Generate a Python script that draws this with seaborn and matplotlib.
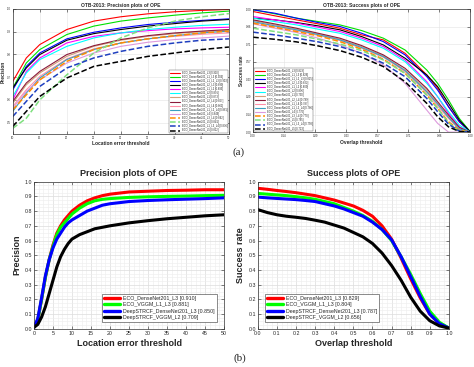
import numpy as np
import pandas as pd
import matplotlib
matplotlib.use("Agg")
import matplotlib.pyplot as plt
from matplotlib.ticker import MultipleLocator, AutoMinorLocator
import seaborn as sns

sns.set_theme(style="ticks")
plt.rcParams['font.family'] = ['Liberation Sans', 'DejaVu Sans']

# ---------------- data: (a) OTB-2013, 15 variants ----------------
top_names = [
    "ECO_DenseNet201_L3 [0.910]", "ECO_DenseNet201_L1_L3 [0.906]",
    "ECO_DenseNet201_L1_L2_L3 [0.903]", "ECO_DenseNet201_L2_L3 [0.899]",
    "ECO_DenseNet201_L1_L2 [0.893]", "ECO_DenseNet201_L2 [0.891]",
    "ECO_DenseNet201_L1 [0.873]", "ECO_DenseNet201_L2_L4 [0.867]",
    "ECO_DenseNet201_L1_L4 [0.861]", "ECO_DenseNet201_L1_L2_L4 [0.861]",
    "ECO_DenseNet201_L4 [0.849]", "ECO_DenseNet201_L3_L4 [0.842]",
    "ECO_DenseNet201_L5 [0.841]", "ECO_DenseNet201_L1_L3_L4 [0.836]",
    "ECO_DenseNet201_L5 [0.812]",
]
top_colors = ["#ff0000", "#00e000", "#0000ff", "#000000", "#ff00ff", "#00ffff",
              "#d2a07a", "#8b1a3a", "#ff8fa8", "#3a9fc0", "#dd99dd",
              "#ff8c00", "#7fe07f", "#1f3fbf", "#000000"]
top_styles = ["-"] * 11 + ["--"] * 4

prec_top_x = [10, 12.5, 15, 20, 25, 30, 35, 40, 45, 50]
prec_top = [
    [0.681, 0.784, 0.843, 0.909, 0.946, 0.965, 0.978, 0.987, 0.993, 0.997],
    [0.652, 0.762, 0.821, 0.887, 0.924, 0.946, 0.960, 0.972, 0.982, 0.990],
    [0.644, 0.747, 0.806, 0.868, 0.897, 0.916, 0.931, 0.941, 0.949, 0.956],
    [0.652, 0.740, 0.799, 0.862, 0.891, 0.909, 0.924, 0.935, 0.946, 0.953],
    [0.600, 0.725, 0.784, 0.850, 0.879, 0.894, 0.904, 0.912, 0.916, 0.919],
    [0.615, 0.718, 0.777, 0.835, 0.872, 0.894, 0.909, 0.919, 0.927, 0.932],
    [0.585, 0.666, 0.718, 0.791, 0.835, 0.862, 0.879, 0.891, 0.900, 0.906],
    [0.593, 0.674, 0.725, 0.799, 0.838, 0.865, 0.882, 0.894, 0.902, 0.909],
    [0.571, 0.644, 0.703, 0.780, 0.824, 0.850, 0.868, 0.879, 0.888, 0.894],
    [0.549, 0.630, 0.696, 0.777, 0.821, 0.850, 0.868, 0.882, 0.894, 0.902],
    [0.563, 0.637, 0.688, 0.762, 0.806, 0.835, 0.853, 0.865, 0.872, 0.880],
    [0.556, 0.622, 0.688, 0.769, 0.821, 0.850, 0.868, 0.882, 0.894, 0.902],
    [0.475, 0.519, 0.600, 0.710, 0.806, 0.872, 0.916, 0.946, 0.965, 0.979],
    [0.527, 0.593, 0.659, 0.740, 0.784, 0.813, 0.835, 0.850, 0.862, 0.868],
    [0.483, 0.549, 0.615, 0.696, 0.747, 0.769, 0.791, 0.806, 0.821, 0.832],
]

succ_top_x = [0, 0.1, 0.2, 0.3, 0.4, 0.5, 0.6, 0.7, 0.8, 0.85, 0.9, 0.95, 1.0]
succ_top = [
    [0.981, 0.946, 0.913, 0.880, 0.845, 0.791, 0.750, 0.641, 0.465, 0.356, 0.207, 0.084, 0.0],
    [0.995, 0.962, 0.927, 0.899, 0.872, 0.826, 0.764, 0.668, 0.505, 0.397, 0.261, 0.111, 0.003],
    [0.995, 0.967, 0.927, 0.891, 0.859, 0.804, 0.736, 0.628, 0.451, 0.342, 0.207, 0.084, 0.003],
    [0.927, 0.913, 0.891, 0.864, 0.832, 0.777, 0.709, 0.601, 0.465, 0.370, 0.234, 0.098, 0.003],
    [0.940, 0.913, 0.886, 0.853, 0.818, 0.764, 0.696, 0.587, 0.410, 0.288, 0.152, 0.043, 0.0],
    [0.927, 0.899, 0.872, 0.837, 0.804, 0.750, 0.682, 0.573, 0.397, 0.288, 0.166, 0.057, 0.0],
    [0.908, 0.872, 0.837, 0.799, 0.755, 0.696, 0.620, 0.505, 0.342, 0.234, 0.125, 0.030, 0.0],
    [0.913, 0.880, 0.845, 0.804, 0.764, 0.704, 0.628, 0.519, 0.356, 0.247, 0.139, 0.038, 0.0],
    [0.891, 0.859, 0.826, 0.788, 0.745, 0.682, 0.609, 0.492, 0.321, 0.212, 0.111, 0.022, 0.0],
    [0.899, 0.864, 0.832, 0.793, 0.750, 0.688, 0.614, 0.500, 0.329, 0.228, 0.120, 0.027, 0.0],
    [0.880, 0.845, 0.810, 0.764, 0.709, 0.641, 0.546, 0.397, 0.179, 0.071, 0.0, 0.0, 0.0],
    [0.886, 0.853, 0.818, 0.783, 0.736, 0.674, 0.592, 0.478, 0.302, 0.193, 0.084, 0.016, 0.0],
    [0.845, 0.818, 0.791, 0.755, 0.717, 0.663, 0.587, 0.478, 0.302, 0.193, 0.076, 0.008, 0.0],
    [0.813, 0.791, 0.764, 0.734, 0.696, 0.641, 0.560, 0.451, 0.274, 0.166, 0.065, 0.008, 0.0],
    [0.772, 0.755, 0.734, 0.701, 0.663, 0.609, 0.533, 0.410, 0.234, 0.125, 0.043, 0.005, 0.0],
]
succ_top_names = [n.split(" [")[0] for n in top_names]
succ_top_scores = ["0.829", "0.826", "0.825", "0.822", "0.809", "0.806", "0.790",
                   "0.789", "0.787", "0.786", "0.776", "0.770", "0.765", "0.758", "0.723"]

# ---------------- data: (b) four trackers ----------------
bot_names_p = ["ECO_DenseNet201_L3 [0.910]", "ECO_VGGM_L1_L3 [0.881]",
               "DeepSTRCF_DenseNet201_L3 [0.850]", "DeepSTRCF_VGGM_L2 [0.709]"]
bot_names_s = ["ECO_DenseNet201_L3 [0.829]", "ECO_VGGM_L1_L3 [0.804]",
               "DeepSTRCF_DenseNet201_L3 [0.787]", "DeepSTRCF_VGGM_L2 [0.656]"]
bot_colors = ["#ff0000", "#00ff00", "#0000ff", "#000000"]

prec_x = [0, 1, 2, 3, 4, 5, 6, 7, 8, 9, 10, 12, 14, 16, 18, 20, 25, 30, 35, 40, 45, 50]
prec_bot = [
    [0.01, 0.06, 0.20, 0.35, 0.47, 0.57, 0.65, 0.70, 0.74, 0.77, 0.80, 0.84, 0.87, 0.89, 0.905, 0.915, 0.93, 0.935, 0.94, 0.942, 0.945, 0.945],
    [0.01, 0.06, 0.20, 0.35, 0.47, 0.56, 0.64, 0.69, 0.72, 0.75, 0.78, 0.82, 0.85, 0.87, 0.88, 0.885, 0.893, 0.897, 0.90, 0.902, 0.905, 0.907],
    [0.01, 0.07, 0.21, 0.36, 0.47, 0.55, 0.61, 0.65, 0.69, 0.72, 0.74, 0.77, 0.80, 0.82, 0.84, 0.85, 0.865, 0.872, 0.877, 0.881, 0.885, 0.89],
    [0.01, 0.03, 0.08, 0.15, 0.24, 0.33, 0.42, 0.49, 0.54, 0.58, 0.61, 0.64, 0.66, 0.68, 0.69, 0.70, 0.72, 0.735, 0.748, 0.758, 0.768, 0.775],
]
succ_x = [0, 0.05, 0.1, 0.15, 0.2, 0.25, 0.3, 0.35, 0.4, 0.45, 0.5,
          0.55, 0.6, 0.65, 0.7, 0.75, 0.8, 0.85, 0.9, 0.95, 1.0]
succ_bot = [
    [0.955, 0.948, 0.94, 0.933, 0.925, 0.915, 0.905, 0.89, 0.875, 0.855, 0.835, 0.805, 0.765, 0.70, 0.61, 0.48, 0.34, 0.21, 0.10, 0.035, 0.005],
    [0.92, 0.915, 0.91, 0.905, 0.898, 0.89, 0.88, 0.865, 0.85, 0.825, 0.80, 0.77, 0.73, 0.675, 0.60, 0.49, 0.37, 0.24, 0.12, 0.045, 0.005],
    [0.895, 0.89, 0.886, 0.882, 0.878, 0.872, 0.865, 0.85, 0.835, 0.815, 0.79, 0.765, 0.725, 0.675, 0.605, 0.49, 0.355, 0.22, 0.10, 0.035, 0.005],
    [0.81, 0.79, 0.775, 0.765, 0.758, 0.75, 0.738, 0.725, 0.705, 0.685, 0.655, 0.625, 0.58, 0.515, 0.43, 0.33, 0.215, 0.12, 0.055, 0.02, 0.005],
]

fig = plt.figure(figsize=(4.74, 3.67), dpi=100)


def frame(ax, tick_fs):
    for s in ax.spines.values():
        s.set_visible(True)
        s.set_linewidth(0.5)
        s.set_color("#333333")
    ax.tick_params(direction="in", labelsize=tick_fs, length=2, width=0.4,
                   top=True, right=True, pad=1.5)


def small_legend(ax, loc):
    leg = ax.legend(loc=loc, fontsize=1.9, handlelength=4, labelspacing=0.05,
                    handleheight=0.5, borderpad=0.3, borderaxespad=0.3,
                    handletextpad=0.5, frameon=True, fancybox=False,
                    edgecolor="#555555", framealpha=1)
    leg.get_frame().set_linewidth(0.3)


# ---------- top-left ----------
ax1 = fig.add_axes([0.027, 0.635, 0.456, 0.341])
for name, c, ls, ys in zip(top_names, top_colors, top_styles, prec_top):
    sns.lineplot(x=prec_top_x, y=ys, color=c, linestyle=ls,
                 linewidth=1.1 if ls == "--" else 0.8, label=name, ax=ax1)
ax1.set_xlim(10, 50)
ax1.set_ylim(0.45, 1.0)
ax1.xaxis.set_major_locator(MultipleLocator(5))
ax1.yaxis.set_major_locator(MultipleLocator(0.1))
ax1.grid(True, color="#e4e4e4", linewidth=0.4)
frame(ax1, 2)
ax1.set_title("OTB-2013: Precision plots of OPE", fontsize=3.5, fontweight="bold", pad=1.5)
ax1.set_xlabel("Location error threshold", fontsize=3.5, fontweight="bold", labelpad=1)
ax1.set_ylabel("Precision", fontsize=3.5, fontweight="bold", labelpad=1)
small_legend(ax1, "lower right")

# ---------- top-right ----------
ax2 = fig.add_axes([0.534, 0.640, 0.458, 0.335])
for name, sc, c, ls, ys in zip(succ_top_names, succ_top_scores, top_colors, top_styles, succ_top):
    sns.lineplot(x=succ_top_x, y=ys, color=c, linestyle=ls,
                 linewidth=1.1 if ls == "--" else 0.8, label=f"{name} [{sc}]", ax=ax2)
ax2.set_xlim(0, 1)
ax2.set_ylim(0, 1)
ax2.set_xticks(np.linspace(0, 1, 8))
ax2.set_yticks(np.linspace(0, 1, 8))
ax2.xaxis.set_major_formatter(matplotlib.ticker.FormatStrFormatter("%.2f"))
ax2.yaxis.set_major_formatter(matplotlib.ticker.FormatStrFormatter("%.2f"))
ax2.grid(True, color="#e4e4e4", linewidth=0.4)
frame(ax2, 2)
ax2.set_title("OTB-2013: Success plots of OPE", fontsize=3.5, fontweight="bold", pad=1.5)
ax2.set_xlabel("Overlap threshold", fontsize=3.5, fontweight="bold", labelpad=1)
ax2.set_ylabel("Success rate", fontsize=3.5, fontweight="bold", labelpad=1)
small_legend(ax2, "lower left")


# ---------- bottom ----------
def bottom(ax, xs, series, names, loc, xlim, xstep, title, xl, yl):
    for name, c, ys in zip(names, bot_colors, series):
        sns.lineplot(x=xs, y=ys, color=c, linewidth=2.2, label=name, ax=ax)
    ax.set_xlim(*xlim)
    ax.set_ylim(0, 1)
    ax.xaxis.set_major_locator(MultipleLocator(xstep))
    ax.yaxis.set_major_locator(MultipleLocator(0.1))
    ax.xaxis.set_minor_locator(AutoMinorLocator(4))
    ax.yaxis.set_minor_locator(AutoMinorLocator(4))
    ax.grid(True, which="major", color="#dcdcdc", linewidth=0.5)
    ax.grid(True, which="minor", color="#ededed", linewidth=0.4)
    frame(ax, 3.8)
    ax.tick_params(which="minor", length=0)
    ax.set_title(title, fontsize=6.5, fontweight="bold", pad=4)
    ax.set_xlabel(xl, fontsize=6.5, fontweight="bold", labelpad=2.5)
    ax.set_ylabel(yl, fontsize=6.5, fontweight="bold", labelpad=2)
    leg = ax.legend(loc=loc, fontsize=3.8, handlelength=3, labelspacing=0.25,
                    borderpad=0.4, borderaxespad=1.3, handletextpad=0.6,
                    frameon=True, fancybox=False,
                    edgecolor="#333333", framealpha=1)
    leg.get_frame().set_linewidth(0.4)
    for ln in leg.get_lines():
        ln.set_linewidth(2.4)


ax3 = fig.add_axes([0.0717, 0.104, 0.401, 0.401])
bottom(ax3, prec_x, prec_bot, bot_names_p, "lower right", (0, 50), 5,
       "Precision plots of OPE", "Location error threshold", "Precision")
ax4 = fig.add_axes([0.544, 0.104, 0.403, 0.401])
bottom(ax4, succ_x, succ_bot, bot_names_s, "lower left", (0, 1), 0.1,
       "Success plots of OPE", "Overlap threshold", "Success rate")

fig.text(0.504, 0.585, "(a)", fontsize=8, family="Liberation Serif", ha="center", va="center")
fig.text(0.506, 0.025, "(b)", fontsize=8, family="Liberation Serif", ha="center", va="center")

fig.savefig("out.png", dpi=100, facecolor="white")
